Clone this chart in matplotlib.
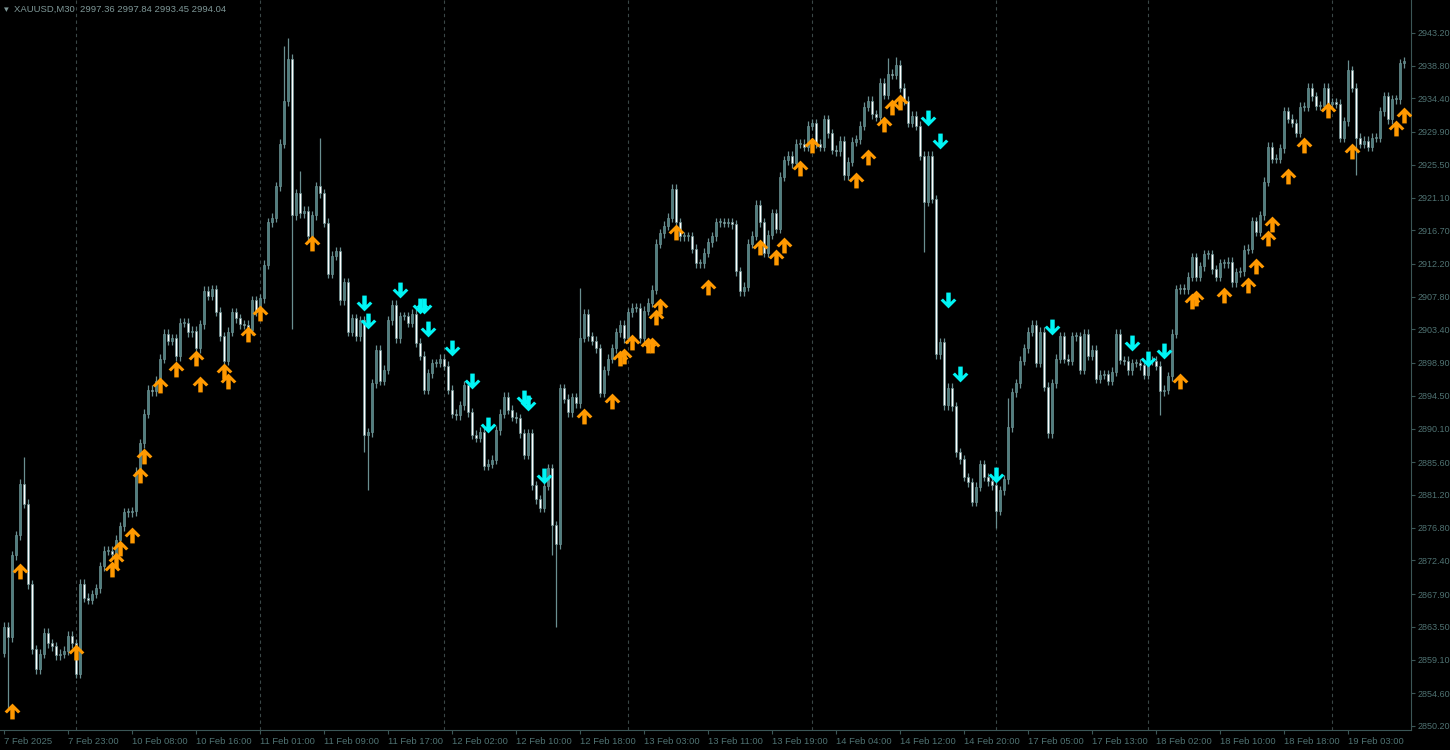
import matplotlib
matplotlib.use("Agg")
import matplotlib.pyplot as plt
import numpy as np
from matplotlib.path import Path

plt.rcParams['font.family'] = ['Liberation Sans', 'DejaVu Sans']

closes = [
2863.5, 2862.1, 2873.1, 2875.8, 2882.7, 2880.0, 2869.2, 2860.5, 2857.8, 2859.9,
2862.7, 2861.3, 2860.9, 2859.7, 2859.9, 2860.3, 2862.3, 2861.3, 2857.2, 2869.3,
2867.4, 2867.1, 2867.9, 2868.7, 2871.6, 2873.7, 2873.7, 2873.3, 2875.2, 2877.0,
2878.9, 2878.9, 2879.0, 2884.3, 2888.1, 2892.1, 2895.3, 2895.1, 2896.5, 2899.5,
2902.8, 2901.9, 2902.2, 2899.8, 2904.3, 2904.3, 2903.0, 2903.2, 2900.9, 2904.1,
2908.6, 2907.9, 2908.8, 2905.8, 2902.5, 2899.2, 2903.1, 2905.7, 2904.9, 2904.1,
2904.0, 2903.3, 2907.3, 2905.8, 2907.6, 2912.1, 2917.8, 2918.4, 2922.6, 2928.3,
2934.0, 2939.7, 2918.7, 2921.7, 2919.0, 2919.3, 2916.0, 2918.7, 2922.6, 2921.7,
2917.7, 2910.9, 2913.3, 2913.9, 2907.3, 2909.7, 2903.1, 2904.9, 2902.5, 2904.6,
2889.3, 2889.6, 2896.2, 2900.7, 2896.5, 2898.0, 2904.6, 2906.7, 2902.2, 2905.2,
2905.2, 2904.3, 2905.5, 2901.6, 2899.9, 2895.3, 2897.5, 2898.9, 2898.9, 2899.5,
2898.5, 2895.3, 2892.1, 2891.9, 2893.2, 2895.9, 2892.3, 2889.3, 2888.9, 2889.7,
2885.1, 2885.4, 2885.9, 2889.9, 2892.1, 2894.4, 2892.6, 2891.7, 2891.5, 2889.5,
2886.6, 2889.5, 2882.5, 2880.6, 2879.5, 2882.4, 2884.8, 2877.1, 2874.6, 2895.5,
2894.1, 2892.3, 2894.3, 2893.5, 2902.3, 2905.5, 2902.5, 2901.9, 2900.9, 2894.9,
2897.9, 2899.5, 2900.9, 2903.0, 2904.0, 2902.2, 2905.7, 2906.3, 2906.3, 2902.2,
2905.9, 2907.0, 2908.7, 2914.9, 2916.3, 2917.3, 2918.4, 2922.3, 2917.8, 2915.9,
2915.9, 2915.9, 2914.2, 2912.3,
2912.3, 2913.7, 2915.1, 2915.9, 2917.8, 2917.8, 2917.7, 2917.8, 2917.5, 2911.2,
2908.5, 2909.1, 2914.9, 2916.0, 2920.1, 2917.8, 2913.7, 2916.1, 2919.0, 2916.9,
2923.9, 2926.1, 2926.7, 2925.7, 2928.3, 2928.3, 2927.9, 2930.7, 2931.1, 2928.3,
2927.9, 2931.6, 2929.7, 2927.5, 2927.3, 2928.7, 2924.1, 2925.9, 2928.6, 2928.9,
2930.7, 2933.3, 2934.1, 2932.3, 2931.9, 2936.5, 2934.9, 2937.7, 2937.6, 2938.9,
2935.8, 2934.1, 2931.1, 2932.1, 2930.7, 2926.7, 2920.5, 2926.7, 2920.9, 2900.1,
2901.7, 2893.2, 2895.6, 2893.1, 2886.9, 2886.0, 2883.6, 2882.9, 2880.3, 2882.3,
2885.3, 2883.6, 2883.0, 2882.5, 2879.1, 2881.8, 2883.3, 2890.3, 2895.0, 2896.2,
2899.2, 2900.9, 2903.1, 2904.0, 2898.9, 2903.1, 2895.7, 2889.5, 2896.2, 2899.5,
2902.5, 2899.5, 2899.2, 2902.5, 2902.5, 2898.0, 2902.8, 2899.9, 2900.7, 2896.8,
2897.3, 2897.4, 2896.5, 2897.7, 2902.8, 2899.3, 2899.2, 2897.9, 2898.9, 2898.9,
2898.6, 2897.3, 2899.2, 2899.2, 2898.5, 2895.1, 2895.3, 2897.1, 2902.8, 2908.8,
2908.9, 2908.8, 2910.5, 2913.1, 2910.5, 2911.9, 2913.5, 2913.5, 2911.5, 2910.5,
2912.3, 2912.3, 2912.5, 2909.7, 2911.1, 2911.2, 2914.1, 2914.2, 2917.9, 2916.5,
2918.7, 2923.2, 2927.9, 2926.3, 2926.3, 2927.7, 2932.7, 2931.7, 2931.1, 2929.8,
2933.3, 2933.3, 2935.8, 2934.7, 2933.4, 2933.4, 2935.8, 2933.7, 2933.9, 2933.7,
2929.1, 2931.3, 2938.2, 2935.8, 2929.1, 2928.3, 2928.7, 2927.9, 2929.1, 2929.1,
2932.7, 2934.7, 2931.6, 2934.3, 2934.3, 2939.1, 2939.4,
]
first_open = 2860.0
wick = 0.6
# notable wick extremes: bar -> (low, high)
wick_extremes = {
    1: (2852.4, None), 4: (None, 2883.3), 5: (None, 2886.3), 70: (None, 2941.4),
    71: (None, 2942.5), 72: (2903.4, None), 74: (None, 2924.6), 79: (None, 2929.1),
    90: (2887.0, None), 91: (2881.8, None), 137: (2873.1, None), 138: (2863.5, None),
    144: (None, 2909.0), 221: (None, 2939.8), 223: (None, 2940.0), 230: (2913.8, None),
    248: (2876.8, None), 251: (None, 2894.2), 289: (2891.9, None), 336: (None, 2939.5),
    338: (2924.1, None),
}

buy_idx = [2, 4, 18, 27, 28, 29, 32, 34, 35, 39, 43, 48, 49, 55, 56, 61, 64, 77, 145, 152,
           154, 155, 157, 161, 162, 163, 164, 168, 176, 189, 193, 195, 199, 202, 213, 216,
           220, 222, 224, 294, 297, 298, 305, 311, 313, 316, 317, 321, 325, 331, 337, 348, 350]
buy_px = [2852.2, 2871.0, 2860.1, 2871.3, 2872.5, 2874.1, 2875.8, 2883.9, 2886.4, 2896.0,
          2898.1, 2899.6, 2896.1, 2897.8, 2896.5, 2902.8, 2905.6, 2915.0, 2891.8, 2893.8,
          2899.6, 2899.9, 2901.7, 2901.3, 2901.3, 2905.1, 2906.6, 2916.5, 2909.1, 2914.5,
          2913.1, 2914.7, 2925.1, 2928.2, 2923.5, 2926.6, 2930.9, 2933.3, 2933.9, 2896.5,
          2907.2, 2907.6, 2908.0, 2909.4, 2911.9, 2915.7, 2917.6, 2924.0, 2928.2, 2932.9,
          2927.4, 2930.4, 2932.2]
sell_idx = [90, 91, 99, 104, 105, 106, 112, 117, 121, 130, 131, 135, 231, 234, 236, 239,
            248, 262, 282, 286, 290]
sell_px = [2907.0, 2904.5, 2908.7, 2906.6, 2906.6, 2903.5, 2900.9, 2896.5, 2890.6, 2894.2,
           2893.5, 2883.7, 2931.8, 2928.7, 2907.4, 2897.4, 2883.9, 2903.7, 2901.6, 2899.5,
           2900.5]

yticks = [2850.20, 2854.60, 2859.10, 2863.50, 2867.90, 2872.40, 2876.80, 2881.20, 2885.60,
          2890.10, 2894.50, 2898.90, 2903.40, 2907.80, 2912.20, 2916.70, 2921.10, 2925.50,
          2929.90, 2934.40, 2938.80, 2943.20]
xlabels = ["7 Feb 2025", "7 Feb 23:00", "10 Feb 08:00", "10 Feb 16:00", "11 Feb 01:00",
           "11 Feb 09:00", "11 Feb 17:00", "12 Feb 02:00", "12 Feb 10:00", "12 Feb 18:00",
           "13 Feb 03:00", "13 Feb 11:00", "13 Feb 19:00", "14 Feb 04:00", "14 Feb 12:00",
           "14 Feb 20:00", "17 Feb 05:00", "17 Feb 13:00", "18 Feb 02:00", "18 Feb 10:00",
           "18 Feb 18:00", "19 Feb 03:00"]
xlabel_idx = [0, 16, 32, 48, 64, 80, 96, 112, 128, 144, 160, 176, 192, 208, 224, 240,
              256, 272, 288, 304, 320, 336]
day_sep_idx = [18, 64, 110, 156, 202, 248, 286, 332]

BG = "black"
UPC = "#4f7f80"
EDGE = "#6a8f90"
TXT = "#4f7272"
AX = "#3b5656"

fig = plt.figure(figsize=(14.5, 7.5), dpi=100, facecolor=BG)
ax = fig.add_axes([0, 0.0267, 1411/1450, 1 - 0.0267])
ax.set_facecolor(BG)

c = np.array(closes)
o = np.concatenate([[first_open], c[:-1]])
n = len(c)
x = np.arange(n)
hi = np.maximum(o, c) + wick
lo = np.minimum(o, c) - wick
for k, (l, h) in wick_extremes.items():
    if l is not None: lo[k] = l
    if h is not None: hi[k] = h

for d in day_sep_idx:
    ax.axvline(d, color="#3a4747", lw=0.8, ls=(0, (3, 3)), zorder=0)

ax.vlines(x, lo, hi, color=EDGE, lw=0.9, zorder=1)
up = c >= o
bw = 0.55
bot = np.minimum(o, c)
hgt = np.maximum(np.abs(c - o), 0.12)
ax.bar(x[up], hgt[up], bottom=bot[up], width=bw, color=UPC, edgecolor=EDGE, lw=0.5, zorder=2)
ax.bar(x[~up], hgt[~up], bottom=bot[~up], width=bw, color="white", edgecolor=EDGE, lw=0.5, zorder=2)

arrow = Path([(0, 1), (1, 0.0), (0.7, -0.25), (0.28, 0.18), (0.28, -1), (-0.28, -1),
              (-0.28, 0.18), (-0.7, -0.25), (-1, 0.0), (0, 1)],
             [Path.MOVETO] + [Path.LINETO] * 8 + [Path.CLOSEPOLY])
arrow_dn = Path(arrow.vertices * np.array([1, -1]), arrow.codes)
ax.scatter(buy_idx, buy_px, marker=arrow, s=130, color="#ff9900", zorder=3, linewidths=0)
ax.scatter(sell_idx, sell_px, marker=arrow_dn, s=130, color="#00f5f5", zorder=3, linewidths=0)

ax.set_xlim(-1, 351.75)
ax.set_ylim(2849.66, 2947.6)
ax.yaxis.tick_right()
ax.set_yticks(yticks)
ax.set_yticklabels([f"{v:.2f}" for v in yticks])
ax.set_xticks(xlabel_idx)
ax.set_xticklabels(xlabels, ha="left")
ax.tick_params(colors=AX, labelcolor=TXT, labelsize=6.8, length=3, width=0.8, pad=2)
ax.tick_params(axis="y", pad=1.5, labelsize=6.5)
for s in ["left", "top"]:
    ax.spines[s].set_visible(False)
ax.spines["right"].set_color(AX)
ax.spines["bottom"].set_color(AX)
ax.text(0.003, 0.993, "\u25BE  XAUUSD,M30  2997.36 2997.84 2993.45 2994.04", transform=ax.transAxes,
        color="#7f9898", fontsize=6.8, va="top", ha="left", family=['DejaVu Sans'] if False else None)

fig.savefig("out.png", dpi=100, facecolor=BG)
